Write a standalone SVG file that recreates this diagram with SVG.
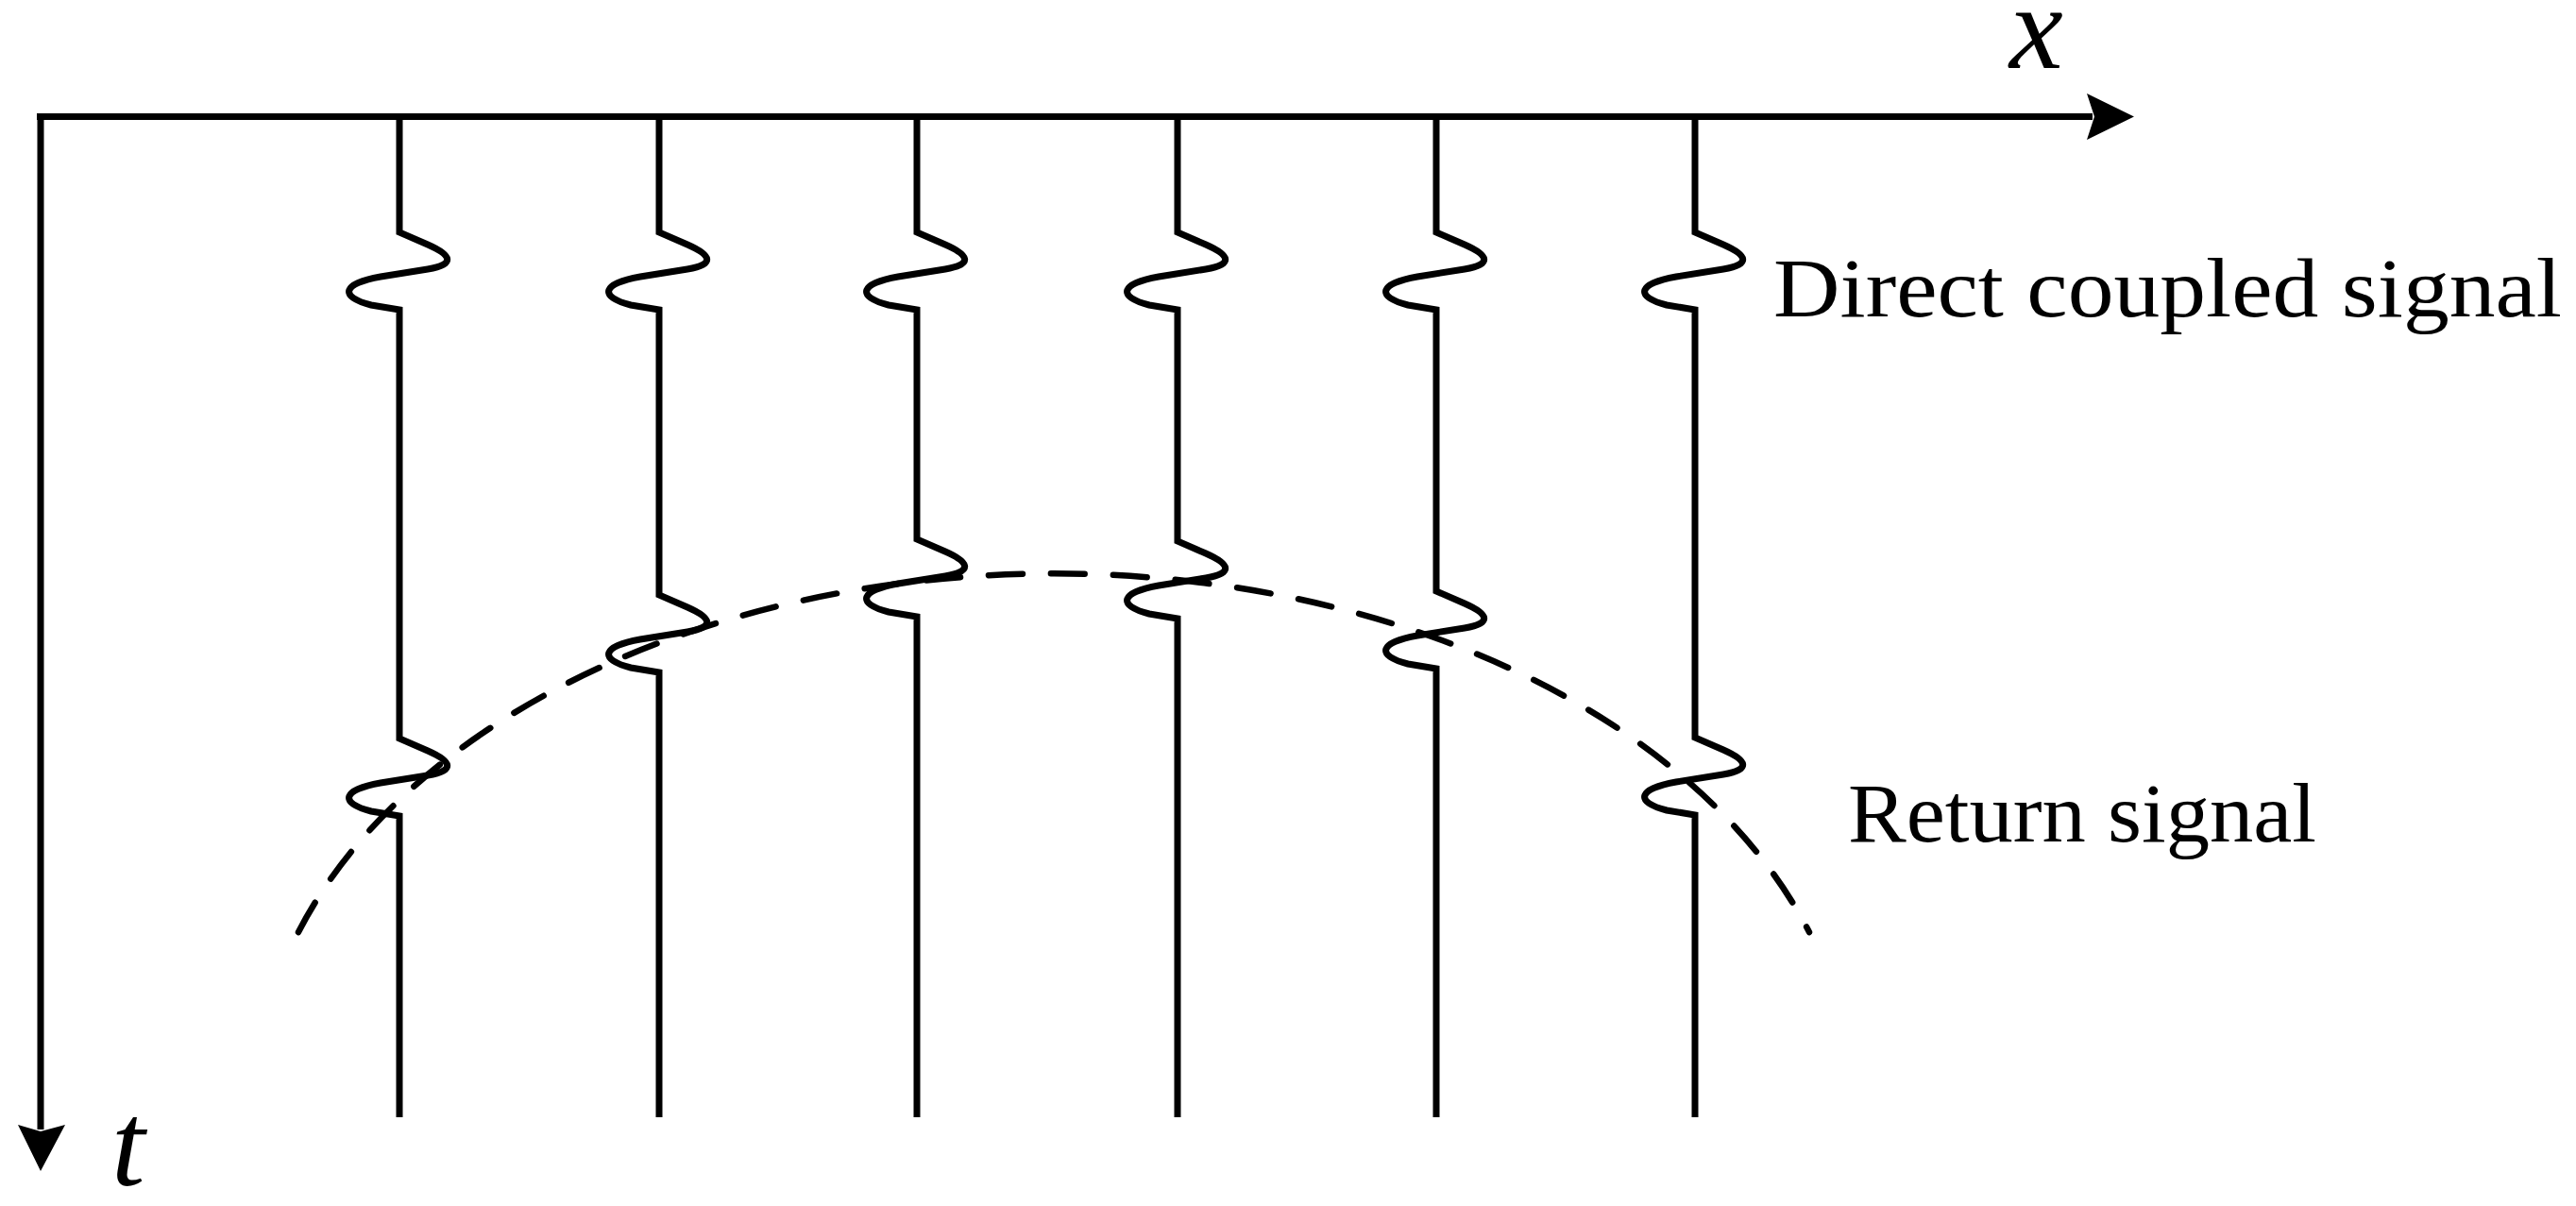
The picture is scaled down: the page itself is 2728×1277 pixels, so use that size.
<svg xmlns="http://www.w3.org/2000/svg" width="2728" height="1277" viewBox="0 0 2728 1277">
  <style>
    .trace { fill: none; stroke: #000; stroke-width: 7; stroke-linejoin: miter; }
    .axis { fill: none; stroke: #000; stroke-width: 7; }
    .head { fill: #000; stroke: none; }
    .dash { fill: none; stroke: #000; stroke-width: 6.5; stroke-dasharray: 36 30; stroke-linecap: round; }
    .lbl { font-family: "Liberation Serif", "Times New Roman", serif; font-size: 89px; fill: #000; }
    .var { font-family: "Liberation Serif", "Times New Roman", serif; font-style: italic; font-size: 128px; fill: #000; }
  </style>
  <rect width="2728" height="1277" fill="#fff"/>
  <g id="axes">
    <path class="axis" d="M 39 123.5 H 2216"/>
    <path class="axis" d="M 43 120 V 1196"/>
    <polygon class="head" points="2260,123.5 2210,99 2218,123.5 2210,148"/>
    <polygon class="head" points="43,1240 19,1191 43,1198 69,1191"/>
    <text class="var" x="2128" y="72">x</text>
    <text class="var" x="118" y="1255">t</text>
  </g>
  <g id="traces">
    <path id="trace1" class="trace" d="M 423 123 V 246 l 30 13 c 25 11, 30 21, 0 26 l -50 8 c -40 7, -45 21, -10 30 l 30 5 V 782 l 30 13 c 25 11, 30 21, 0 26 l -50 8 c -40 7, -45 21, -10 30 l 30 5 V 1183"/>
    <path id="trace2" class="trace" d="M 698 123 V 246 l 30 13 c 25 11, 30 21, 0 26 l -50 8 c -40 7, -45 21, -10 30 l 30 5 V 630 l 30 13 c 25 11, 30 21, 0 26 l -50 8 c -40 7, -45 21, -10 30 l 30 5 V 1183"/>
    <path id="trace3" class="trace" d="M 971 123 V 246 l 30 13 c 25 11, 30 21, 0 26 l -50 8 c -40 7, -45 21, -10 30 l 30 5 V 571 l 30 13 c 25 11, 30 21, 0 26 l -50 8 c -40 7, -45 21, -10 30 l 30 5 V 1183"/>
    <path id="trace4" class="trace" d="M 1247 123 V 246 l 30 13 c 25 11, 30 21, 0 26 l -50 8 c -40 7, -45 21, -10 30 l 30 5 V 573 l 30 13 c 25 11, 30 21, 0 26 l -50 8 c -40 7, -45 21, -10 30 l 30 5 V 1183"/>
    <path id="trace5" class="trace" d="M 1521 123 V 246 l 30 13 c 25 11, 30 21, 0 26 l -50 8 c -40 7, -45 21, -10 30 l 30 5 V 626 l 30 13 c 25 11, 30 21, 0 26 l -50 8 c -40 7, -45 21, -10 30 l 30 5 V 1183"/>
    <path id="trace6" class="trace" d="M 1795 123 V 246 l 30 13 c 25 11, 30 21, 0 26 l -50 8 c -40 7, -45 21, -10 30 l 30 5 V 781 l 30 13 c 25 11, 30 21, 0 26 l -50 8 c -40 7, -45 21, -10 30 l 30 5 V 1183"/>
  </g>
  <g id="return-curve">
    <path class="dash" d="M 316 987 A 845 560 0 0 1 1916 987"/>
  </g>
  <g id="labels">
    <text class="lbl" x="1878" y="335" textLength="835" lengthAdjust="spacingAndGlyphs">Direct coupled signal</text>
    <text class="lbl" x="1957" y="891" textLength="496" lengthAdjust="spacingAndGlyphs">Return signal</text>
  </g>
</svg>
